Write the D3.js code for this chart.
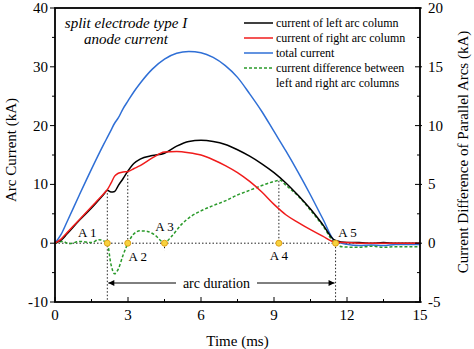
<!DOCTYPE html>
<html>
<head>
<meta charset="utf-8">
<script src="https://cdn.jsdelivr.net/npm/d3@7/dist/d3.min.js"></script>
<style>
  html, body { margin: 0; padding: 0; background: #fff; }
  svg { display: block; font-family: "Liberation Serif", "Times New Roman", serif; }
</style>
</head>
<body>
<div id="chart"></div>
<script>
// arc currents of split electrode, type I (left axis kA, right axis kA difference)

var TIME = [0, 0.25, 0.5, 1, 1.5, 2, 2.15, 2.3, 2.45, 2.6, 2.8, 3, 3.25, 3.5, 4, 4.5, 5, 5.5, 6, 6.5, 7, 7.5, 8, 8.5, 9, 9.5, 10, 10.5, 11, 11.5, 12, 12.5, 13, 13.5, 14, 15];

var LEFT_ARC  = [0, 0.5, 1.6, 3.9, 6.0, 8.3, 9.0, 8.7, 8.8, 9.8, 11.0, 12.3, 13.6, 14.3, 14.9, 15.3, 16.5, 17.3, 17.5, 17.3, 16.8, 15.9, 14.8, 13.5, 12.0, 10.2, 8.1, 5.8, 3.2, 0.5, 0.1, 0.1, 0.0, 0.1, 0.0, 0.0];
var RIGHT_ARC = [0, 0.7, 1.8, 4.0, 6.2, 8.4, 9.1, 10.2, 11.4, 11.9, 12.1, 12.2, 12.7, 13.2, 14.5, 15.5, 15.6, 15.4, 15.0, 14.2, 13.2, 12.0, 10.5, 8.7, 6.6, 4.8, 3.5, 2.3, 1.2, 0.2, 0.1, 0.0, 0.0, 0.0, 0.0, 0.0];
var TOTAL     = [0, 1.5, 3.7, 8.2, 12.6, 16.8, 18.0, 19.2, 20.4, 21.3, 22.9, 24.2, 25.8, 27.2, 29.6, 31.3, 32.3, 32.6, 32.4, 31.6, 30.2, 28.2, 25.4, 22.4, 19.0, 15.6, 12.0, 8.2, 4.2, 0.4, -0.2, -0.4, -0.3, -0.4, -0.2, -0.2];

// difference left - right, read against the right axis
var DIFF_TIME = [0, 0.3, 0.6, 1, 1.5, 1.8, 2.0, 2.15, 2.3, 2.45, 2.6, 2.8, 3.0, 3.2, 3.5, 3.8, 4.1, 4.5, 4.8, 5.2, 5.6, 6, 6.5, 7, 7.5, 8, 8.5, 9, 9.25, 9.5, 10, 10.5, 11, 11.5, 11.8, 12.5, 13, 13.5, 14, 15];
var DIFF      = [0, 0.15, -0.05, 0.15, 0.05, 0.3, 0.2, 0, -1.8, -2.6, -2.2, -1.0, 0, 0.7, 1.05, 1.0, 0.7, 0.05, 0.6, 1.6, 2.3, 2.75, 3.2, 3.6, 4.1, 4.5, 4.9, 5.25, 5.35, 4.9, 4.0, 2.8, 1.5, 0, -0.3, -0.35, -0.25, -0.35, -0.3, -0.3];

var MARK_NAMES = ['A 1', 'A 2', 'A 3', 'A 4', 'A 5'];
var MARK_TIMES = [2.15, 2.99, 4.5, 9.2, 11.53];

var X_TICKS = [0, 3, 6, 9, 12, 15];
var YL_TICKS = [-10, 0, 10, 20, 30, 40];
var YR_TICKS = [-5, 0, 5, 10, 15, 20];

var LEGEND_LABELS = ['current of left arc column', 'current of right arc column', 'total current', 'current difference between'];
var LEGEND_EXTRA = 'left and right arc columns';

var W = 474, H = 349;
var svg = d3.select('#chart').append('svg').attr('width', W).attr('height', H);

var x = d3.scaleLinear().domain([0, 15]).range([55, 420]);
var yL = d3.scaleLinear().domain([-10, 40]).range([302, 8]);
var yR = d3.scaleLinear().domain([-5, 20]).range([302, 8]);

var COLORS = { left: '#000000', right: '#f01c1c', total: '#2f6fd6', diff: '#2a9a2a' };

function series(ts, vs){
  return ts.map(function(t, i){ return [t, vs[i]]; });
}

var lineL = d3.line().x(function(d){ return x(d[0]); }).y(function(d){ return yL(d[1]); }).curve(d3.curveMonotoneX);
var lineR = d3.line().x(function(d){ return x(d[0]); }).y(function(d){ return yR(d[1]); }).curve(d3.curveMonotoneX);

// dotted reference lines
var dotted = svg.append('g').attr('stroke', '#222').attr('stroke-width', 1).attr('stroke-dasharray', '1.5,2').attr('fill', 'none');
dotted.append('line').attr('x1', x(0)).attr('x2', x(15)).attr('y1', yL(0)).attr('y2', yL(0));
dotted.append('line').attr('x1', x(MARK_TIMES[0])).attr('x2', x(MARK_TIMES[0])).attr('y1', yL(9.1)).attr('y2', yL(-10));
dotted.append('line').attr('x1', x(MARK_TIMES[1])).attr('x2', x(MARK_TIMES[1])).attr('y1', yL(12.2)).attr('y2', yL(0));
dotted.append('line').attr('x1', x(MARK_TIMES[2])).attr('x2', x(MARK_TIMES[2])).attr('y1', yL(0)).attr('y2', yL(-1.2));
dotted.append('line').attr('x1', x(MARK_TIMES[3])).attr('x2', x(MARK_TIMES[3])).attr('y1', yR(5.3)).attr('y2', yL(0));
dotted.append('line').attr('x1', x(MARK_TIMES[4])).attr('x2', x(MARK_TIMES[4])).attr('y1', yL(0)).attr('y2', yL(-10));

// curves
var curves = svg.append('g').attr('fill', 'none').attr('stroke-width', 1.5);
curves.append('path').attr('d', lineL(series(TIME, TOTAL))).attr('stroke', COLORS.total);
curves.append('path').attr('d', lineR(series(DIFF_TIME, DIFF))).attr('stroke', COLORS.diff).attr('stroke-dasharray', '3,2');
curves.append('path').attr('d', lineL(series(TIME, LEFT_ARC))).attr('stroke', COLORS.left);
curves.append('path').attr('d', lineL(series(TIME, RIGHT_ARC))).attr('stroke', COLORS.right);

// event markers on the zero line
svg.append('g').selectAll('circle').data(MARK_TIMES).enter().append('circle')
  .attr('cx', function(d){ return x(d); })
  .attr('cy', yL(0))
  .attr('r', 3)
  .attr('fill', '#f7d23e')
  .attr('stroke', '#e0a21a')
  .attr('stroke-width', 1);

var labelPos = [[-20, -6], [10, 18], [0, -12], [0, 17], [12, -6]];
svg.append('g').selectAll('text').data(MARK_NAMES).enter().append('text')
  .attr('x', function(d, i){ return x(MARK_TIMES[i]) + labelPos[i][0]; })
  .attr('y', function(d, i){ return yL(0) + labelPos[i][1]; })
  .attr('text-anchor', 'middle')
  .attr('font-size', 13)
  .text(function(d){ return d; });

// arc duration arrow
var arrowY = 283;
var defs = svg.append('defs');
['start', 'end'].forEach(function(k){
  defs.append('marker')
    .attr('id', 'arr-' + k)
    .attr('viewBox', '0 0 10 10')
    .attr('refX', 10).attr('refY', 5)
    .attr('markerWidth', 9).attr('markerHeight', 6)
    .attr('markerUnits', 'userSpaceOnUse')
    .attr('orient', k === 'start' ? 'auto-start-reverse' : 'auto')
    .append('path').attr('d', 'M0,0 L10,5 L0,10 Z').attr('fill', '#000');
});
svg.append('line').attr('x1', x(MARK_TIMES[0]) + 1).attr('x2', 176).attr('y1', arrowY).attr('y2', arrowY)
  .attr('stroke', '#000').attr('stroke-width', 1).attr('marker-start', 'url(#arr-start)');
svg.append('line').attr('x1', 257).attr('x2', x(MARK_TIMES[4]) - 1).attr('y1', arrowY).attr('y2', arrowY)
  .attr('stroke', '#000').attr('stroke-width', 1).attr('marker-end', 'url(#arr-end)');
svg.append('text').attr('x', 216.5).attr('y', arrowY + 5).attr('text-anchor', 'middle').attr('font-size', 14).text('arc duration');

// axes
var axisG = svg.append('g').attr('font-size', 15);

var bottom = axisG.append('g').attr('transform', 'translate(0,' + yL(-10) + ')');
bottom.selectAll('line.minor').data(d3.range(1.5, 15, 3)).enter().append('line')
  .attr('x1', function(d){ return x(d); }).attr('x2', function(d){ return x(d); })
  .attr('y1', 0).attr('y2', -3).attr('stroke', '#000');
bottom.selectAll('line.major').data(X_TICKS).enter().append('line')
  .attr('x1', function(d){ return x(d); }).attr('x2', function(d){ return x(d); })
  .attr('y1', 0).attr('y2', -5).attr('stroke', '#000');
bottom.selectAll('text').data(X_TICKS).enter().append('text')
  .attr('x', function(d){ return x(d); }).attr('y', 18)
  .attr('text-anchor', 'middle').text(function(d){ return d; });

var left = axisG.append('g').attr('transform', 'translate(' + x(0) + ',0)');
left.selectAll('line.minor').data(d3.range(-5, 40, 10)).enter().append('line')
  .attr('y1', function(d){ return yL(d); }).attr('y2', function(d){ return yL(d); })
  .attr('x1', -3).attr('x2', 0).attr('stroke', '#000');
left.selectAll('line.major').data(YL_TICKS).enter().append('line')
  .attr('y1', function(d){ return yL(d); }).attr('y2', function(d){ return yL(d); })
  .attr('x1', -5).attr('x2', 0).attr('stroke', '#000');
left.selectAll('text').data(YL_TICKS).enter().append('text')
  .attr('x', -7).attr('y', function(d){ return yL(d) + 5; })
  .attr('text-anchor', 'end').text(function(d){ return d; });

var right = axisG.append('g').attr('transform', 'translate(' + x(15) + ',0)');
right.selectAll('line.minor').data(d3.range(-2.5, 20, 5)).enter().append('line')
  .attr('y1', function(d){ return yR(d); }).attr('y2', function(d){ return yR(d); })
  .attr('x1', -3).attr('x2', 0).attr('stroke', '#000');
right.selectAll('line.major').data(YR_TICKS).enter().append('line')
  .attr('y1', function(d){ return yR(d); }).attr('y2', function(d){ return yR(d); })
  .attr('x1', -5).attr('x2', 2).attr('stroke', '#000');
right.selectAll('text').data(YR_TICKS).enter().append('text')
  .attr('x', 8).attr('y', function(d){ return yR(d) + 5; })
  .attr('text-anchor', 'start').text(function(d){ return d; });

// frame
svg.append('rect').attr('x', x(0)).attr('y', yL(40)).attr('width', x(15) - x(0)).attr('height', yL(-10) - yL(40))
  .attr('fill', 'none').attr('stroke', '#000').attr('stroke-width', 1.8);

// axis titles
axisG.append('text').attr('transform', 'translate(' + x(7.5) + ',346)').attr('text-anchor', 'middle').text('Time (ms)');
axisG.append('text').attr('transform', 'translate(16,150) rotate(-90)').attr('text-anchor', 'middle').text('Arc Current (kA)');
axisG.append('text').attr('transform', 'translate(468,152) rotate(-90)').attr('text-anchor', 'middle').text('Current Difference of Parallel Arcs (kA)');

// annotation
var note = svg.append('g').attr('font-size', 15).attr('font-style', 'italic').attr('text-anchor', 'middle');
note.append('text').attr('x', 126).attr('y', 28).text('split electrode type I');
note.append('text').attr('x', 126).attr('y', 44).text('anode current');

// legend
var legend = svg.append('g').attr('transform', 'translate(244,23)');
var legendColors = [COLORS.left, COLORS.right, COLORS.total, COLORS.diff];
legendColors.forEach(function(c, i){
  var row = legend.append('g').attr('transform', 'translate(0,' + (i * 15) + ')');
  row.append('line').attr('x1', 0).attr('x2', 29).attr('stroke', c).attr('stroke-width', 1.5)
    .attr('stroke-dasharray', i === 3 ? '3,2' : null);
  row.append('text').attr('x', 32).attr('y', 4).attr('font-size', 12).text(LEGEND_LABELS[i]);
});
legend.append('text').attr('x', 32).attr('y', 64).attr('font-size', 12).text(LEGEND_EXTRA);
</script>
</body>
</html>
